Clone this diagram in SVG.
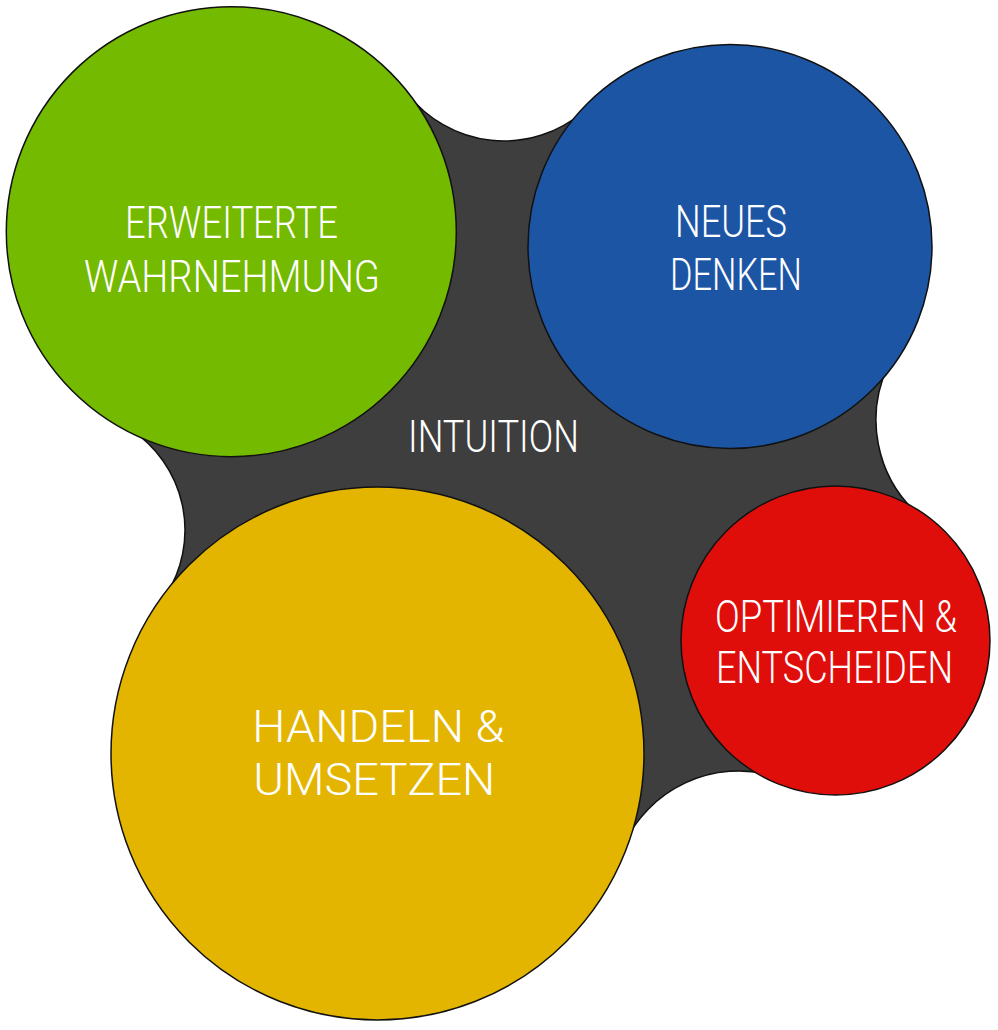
<svg xmlns="http://www.w3.org/2000/svg" width="998" height="1030" viewBox="0 0 998 1030">
<style>
.c{stroke:#111;stroke-width:1.5}
.t{font-family:Roboto,"Liberation Sans",sans-serif;font-weight:300;font-size:45px;fill:#fff}
</style>
<rect width="998" height="1030" fill="#fff"/>
<g id="intuition">
<path d="M231.3,231.7 L407.9,94.1 A122,122 0 0 0 582.4,112.5 L730,246.5 L887.9,366.3 A127,127 0 0 0 916.4,512.9 L835.5,640.5 L771.9,775.3 A127,127 0 0 0 623.9,844.3 L377.5,753.5 L165.6,595.4 A120,120 0 0 0 130.4,429.4 Z" fill="#3e3e3e" class="c"/>
<text class="t" x="408" y="451.7" textLength="171" lengthAdjust="spacingAndGlyphs">INTUITION</text>
</g>
<g id="wahrnehmung">
<circle cx="231.3" cy="231.7" r="225" fill="#73ba00" class="c"/>
<text class="t" x="125" y="238" textLength="213" lengthAdjust="spacingAndGlyphs">ERWEITERTE</text>
<text class="t" x="84" y="291.7" textLength="296" lengthAdjust="spacingAndGlyphs">WAHRNEHMUNG</text>
</g>
<g id="denken">
<circle cx="730" cy="246.5" r="202" fill="#1d55a5" class="c"/>
<text class="t" x="675" y="236.7" textLength="112" lengthAdjust="spacingAndGlyphs">NEUES</text>
<text class="t" x="670" y="290" textLength="132" lengthAdjust="spacingAndGlyphs">DENKEN</text>
</g>
<g id="entscheiden">
<circle cx="835.5" cy="640.5" r="154.5" fill="#e00e0b" class="c"/>
<text class="t" x="715" y="631.7" textLength="242" lengthAdjust="spacingAndGlyphs">OPTIMIEREN &amp;</text>
<text class="t" x="716" y="683.3" textLength="237" lengthAdjust="spacingAndGlyphs">ENTSCHEIDEN</text>
</g>
<g id="umsetzen">
<circle cx="377.5" cy="753.5" r="266.5" fill="#e3b500" class="c"/>
<text class="t" x="252.3" y="741.7" textLength="252" lengthAdjust="spacingAndGlyphs">HANDELN &amp;</text>
<text class="t" x="253.3" y="795" textLength="242" lengthAdjust="spacingAndGlyphs">UMSETZEN</text>
</g>
<g id="connectors"/>
</svg>
